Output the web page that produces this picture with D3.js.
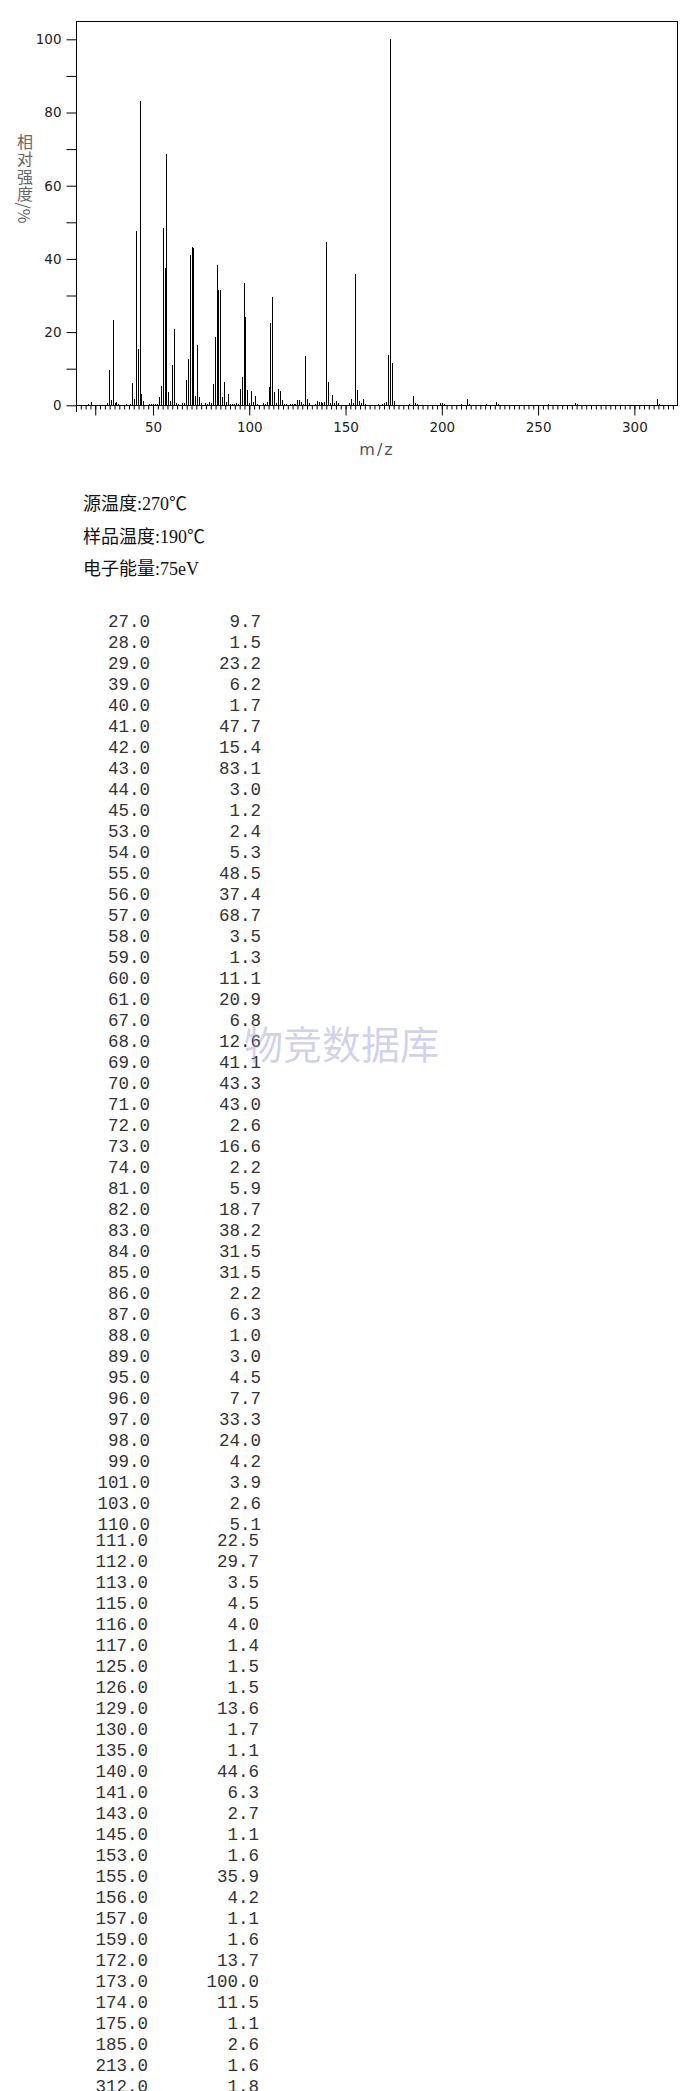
<!DOCTYPE html>
<html><head><meta charset="utf-8">
<script src="https://cdn.jsdelivr.net/npm/d3@7/dist/d3.min.js"></script>
<style>html,body{margin:0;padding:0;background:#fff;}svg{display:block;}</style>
</head><body>
<script>
// Main peaks (table values)
const mz = [27,28,29,39,40,41,42,43,44,45,53,54,55,56,57,58,59,60,61,67,68,69,70,71,72,73,74,81,82,83,84,85,86,87,88,89,95,96,97,98,99,101,103,110,111,112,113,115,116,117,125,126,129,130,135,140,141,143,145,153,155,156,157,159,172,173,174,175,185,213,312];
const intensity = [9.7,1.5,23.2,6.2,1.7,47.7,15.4,83.1,3.0,1.2,2.4,5.3,48.5,37.4,68.7,3.5,1.3,11.1,20.9,6.8,12.6,41.1,43.3,43.0,2.6,16.6,2.2,5.9,18.7,38.2,31.5,31.5,2.2,6.3,1.0,3.0,4.5,7.7,33.3,24.0,4.2,3.9,2.6,5.1,22.5,29.7,3.5,4.5,4.0,1.4,1.5,1.5,13.6,1.7,1.1,44.6,6.3,2.7,1.1,1.6,35.9,4.2,1.1,1.6,13.7,100.0,11.5,1.1,2.6,1.6,1.8];
// Minor peaks (< 1%, estimated from the plot)
const minorMz = [16,18,26,30,31,32,36,38,48,49,50,51,52,62,63,65,66,75,77,78,79,80,90,91,92,93,94,100,102,104,107,108,109,114,118,119,121,122,123,124,127,128,131,134,136,137,138,139,142,144,146,152,154,158,160,167,169,170,171,183,186,187,199,200,201,210,214,223,228,229,255,269,270,313];
const minorInt = [0.4,0.9,0.7,0.7,0.9,0.4,0.4,0.4,0.4,0.4,0.4,0.4,0.4,0.5,0.4,0.7,0.7,0.6,0.5,0.4,0.8,0.7,0.4,0.4,0.4,0.7,0.4,0.7,0.9,0.4,0.6,0.4,0.9,0.6,0.4,0.4,0.3,0.3,0.4,0.4,0.9,0.4,0.6,0.4,0.8,0.9,0.6,0.9,0.6,0.7,0.5,0.7,0.7,0.6,0.4,0.4,0.4,0.6,0.9,0.3,0.6,0.3,0.6,0.7,0.4,0.3,0.4,0.3,0.9,0.4,0.3,0.6,0.4,0.4];
const xTickLabels = [50,100,150,200,250,300];
const yTickLabels = [0,20,40,60,80,100];
const infoLines = ["源温度:270℃","样品温度:190℃","电子能量:75eV"];
const yAxisTitleChars = ["相","对","强","度"];
const yAxisTitleUnit = "/%";
const xAxisTitle = "m/z";
const watermark = "物竞数据库";

const W = 687, H = 2091;
const svg = d3.select("body").append("svg").attr("width", W).attr("height", H);

const L = 76.3, R = 677.3, T = 21.3, B = 405.3;
const x = d3.scaleLinear().domain([10.16, 322.3]).range([L, R]);
const y = d3.scaleLinear().domain([0, 100]).range([B, 39.3]);
const px = v => Math.round(v) + 0.5;

const g = svg.append("g");

// bars
const allPeaks = mz.map((m,i)=>({m, v:intensity[i]})).concat(minorMz.map((m,i)=>({m, v:minorInt[i]})));
g.selectAll("line.bar").data(allPeaks).enter().append("line")
  .attr("x1", d=>px(x(d.m))).attr("x2", d=>px(x(d.m)))
  .attr("y1", Math.round(B)).attr("y2", d=>Math.round(y(d.v)))
  .attr("stroke", "#000").attr("stroke-width", 1).attr("shape-rendering","crispEdges");

// frame
g.append("path")
  .attr("d", `M${px(L)},${Math.round(B)+7}V${px(T)}H${px(R)}V${px(B)}`)
  .attr("fill","none").attr("stroke","#000").attr("shape-rendering","crispEdges");

// x axis
const xAxis = d3.axisBottom(x).tickValues(d3.range(12.5, 322, 2.5)).tickSize(4).tickFormat("");
const xa = svg.append("g").attr("transform", `translate(0,${px(B)})`).call(xAxis);
xa.select(".domain").attr("d", `M${px(L)},0H${px(R)}`).attr("stroke","#000");
xa.selectAll(".tick line").attr("stroke","#000");
const xMajor = d3.axisBottom(x).tickValues([20].concat(xTickLabels)).tickSize(10).tickFormat(d => xTickLabels.includes(d) ? d : "");
const xm = svg.append("g").attr("transform", `translate(0,${px(B)})`).call(xMajor);
xm.select(".domain").remove();
xm.selectAll(".tick line").attr("stroke","#000");
xm.selectAll(".tick text").attr("font-family","'DejaVu Sans', sans-serif").attr("font-size","13.5px")
  .attr("fill","#222").attr("dy","0").attr("y", 26.5);

// y axis
const yAxis = d3.axisLeft(y).tickValues(d3.range(0, 101, 10)).tickSize(10)
  .tickFormat(d => yTickLabels.includes(d) ? d : "");
const ya = svg.append("g").attr("transform", `translate(${px(L)},0)`).call(yAxis);
ya.select(".domain").remove();
ya.selectAll(".tick line").attr("stroke","#000");
ya.selectAll(".tick text").attr("font-family","'DejaVu Sans', sans-serif").attr("font-size","13.5px")
  .attr("fill","#222").attr("x", -15);

// axis titles
svg.append("text").text(xAxisTitle).attr("x", 377).attr("y", 455)
  .attr("text-anchor","middle").attr("font-family","'DejaVu Sans', sans-serif")
  .attr("font-size","16px").attr("letter-spacing","2px").attr("fill","#555");
const yt = svg.append("g").attr("font-family","'Noto Sans CJK SC', sans-serif").attr("font-size","16px").attr("fill","#666");
yt.selectAll("text.c").data(yAxisTitleChars).enter().append("text")
  .attr("x", 25).attr("y", (d,i)=>141 + i*17.4)
  .attr("text-anchor","middle").attr("dominant-baseline","central").text(d=>d);
yt.append("text").text(yAxisTitleUnit)
  .attr("transform","translate(25,213) rotate(90)")
  .attr("text-anchor","middle").attr("dominant-baseline","central");

// info lines
svg.selectAll("text.info").data(infoLines).enter().append("text")
  .attr("class","info").text(d=>d).attr("x", 83).attr("y", (d,i)=>510 + i*32.5)
  .attr("font-family","'Liberation Serif','Noto Sans CJK SC', serif").attr("font-size","18px").attr("fill","#111");

// table
const rowY = i => i <= 43 ? 627 + 21*i : 1546 + 21*(i-44);
const shift = i => i <= 43 ? 0 : -2;
const tbl = svg.append("g").attr("font-family","'Liberation Mono', monospace").attr("font-size","17.5px").attr("fill","#333");
tbl.selectAll("text.m").data(mz).enter().append("text")
  .attr("x", (d,i)=>150 + shift(i)).attr("y", (d,i)=>rowY(i)).attr("text-anchor","end").text(d=>d.toFixed(1));
tbl.selectAll("text.v").data(intensity).enter().append("text")
  .attr("x", (d,i)=>261 + shift(i)).attr("y", (d,i)=>rowY(i)).attr("text-anchor","end").text(d=>d.toFixed(1));

// watermark
svg.append("text").text(watermark).attr("x", 244).attr("y", 1059)
  .attr("font-family","'Noto Sans CJK SC', sans-serif").attr("font-size","39px")
  .attr("fill","#9a9ad6").attr("fill-opacity",0.45);
</script>
</body></html>
